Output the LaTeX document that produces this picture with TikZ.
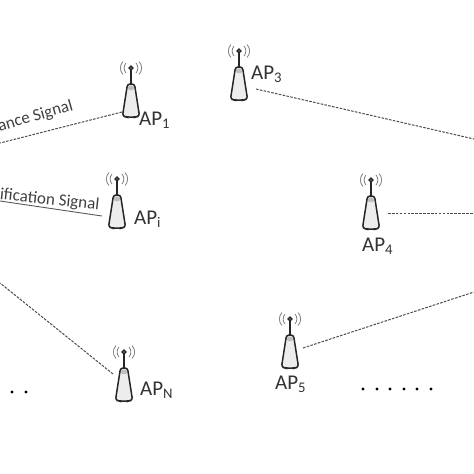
\documentclass[tikz,border=0pt]{standalone}
\usepackage{fontspec}
\setmainfont{Carlito}
\usepackage{tikz}
\tikzset{aplabel/.style = {inner sep = 0, anchor = base west, text = black!80, font = \fontsize{21}{21}\selectfont}}
\tikzset{siglabel/.style = {inner sep = 0, anchor = base east, text = black!75, font = \fontsize{17}{17}\selectfont}}
\tikzset{apdot/.style = {shape = circle, fill = black, inner sep = 0, minimum size = 3.4pt}}
\tikzset{link/.style = {dash pattern = on 2.6pt off 1.3pt, draw = black!70, line width = 1pt}}
\tikzset{solidlink/.style = {draw = black!65, line width = 0.9pt}}
\tikzset{wave/.style = {draw = black!50, line width = 0.8pt}}
\tikzset{pics/ap/.style = {code = {
	\draw[line width = 1.5pt, draw = black!85, fill = black!7, rounded corners = 2.5pt] (-8.5, -1) -- (-3.5, -33) -- (3.5, -33) -- (8.5, -1) -- (5, 0) -- (-5, 0) -- cycle;
	\fill[black!25, rounded corners = 1pt] (-2.6, -31.5) -- (2.6, -31.5) -- (3, -27) -- (-3, -27) -- cycle;
	\draw[line width = 1.4pt, black!85] (0, -33) -- (0, -49);
	\draw[line width = 1.3pt, black!85, fill = black!30] (0, -49) circle (1.9);
	\draw[wave] (-5, -54) .. controls (-7.5, -51) and (-7.5, -47) .. (-5, -44);
	\draw[wave] (5, -54) .. controls (7.5, -51) and (7.5, -47) .. (5, -44);
	\draw[wave] (-8, -55.5) .. controls (-11.5, -52) and (-11.5, -46) .. (-8, -42.5);
	\draw[wave] (8, -55.5) .. controls (11.5, -52) and (11.5, -46) .. (8, -42.5);
}}}

\begin{document}
\begin{tikzpicture}[x = 1pt, y = -1pt]
	\useasboundingbox (0, 0) rectangle (474, 474);
	\clip (0, 0) rectangle (474, 474);

	\pic at (131, 117) {ap};
	\pic at (117, 228) {ap};
	\pic at (124, 401) {ap};
	\pic at (239, 100) {ap};
	\pic at (371, 229) {ap};
	\pic at (290, 368) {ap};

	\node[aplabel] (ap1) at (139, 125) {AP\textsubscript{1}};
	\node[aplabel] (api) at (134, 224) {AP\textsubscript{i}};
	\node[aplabel] (apn) at (140, 395) {AP\textsubscript{N}};
	\node[aplabel] (ap3) at (251, 79) {AP\textsubscript{3}};
	\node[aplabel] (ap4) at (362, 251) {AP\textsubscript{4}};
	\node[aplabel] (ap5) at (275, 389) {AP\textsubscript{5}};

	\node[siglabel, rotate = 16] (interf) at (74, 110) {ance Signal};
	\node[siglabel, rotate = -6] (notif) at (99, 210) {ification Signal};

	\coordinate (e1) at (122, 112);
	\coordinate (f1) at (0, 143);
	\coordinate (ei) at (102, 216);
	\coordinate (fi) at (0, 201);
	\coordinate (en) at (113, 374);
	\coordinate (fn) at (0, 283);
	\coordinate (e3) at (256, 89);
	\coordinate (f3) at (474, 139);
	\coordinate (e4) at (388, 213);
	\coordinate (f4) at (474, 213);
	\coordinate (e5) at (303, 348);
	\coordinate (f5) at (474, 292);

	\draw[link] (e1) to (f1);
	\draw[solidlink] (ei) to (fi);
	\draw[link] (en) to (fn);
	\draw[link] (e3) to (f3);
	\draw[link] (e4) to (f4);
	\draw[link] (e5) to (f5);

	\node[apdot] (l1) at (12, 392) {};
	\node[apdot] (l2) at (26, 392) {};
	\node[apdot] (r1) at (363, 389) {};
	\node[apdot] (r2) at (377, 389) {};
	\node[apdot] (r3) at (390, 389) {};
	\node[apdot] (r4) at (404, 389) {};
	\node[apdot] (r5) at (417, 389) {};
	\node[apdot] (r6) at (431, 389) {};
\end{tikzpicture}
\end{document}
